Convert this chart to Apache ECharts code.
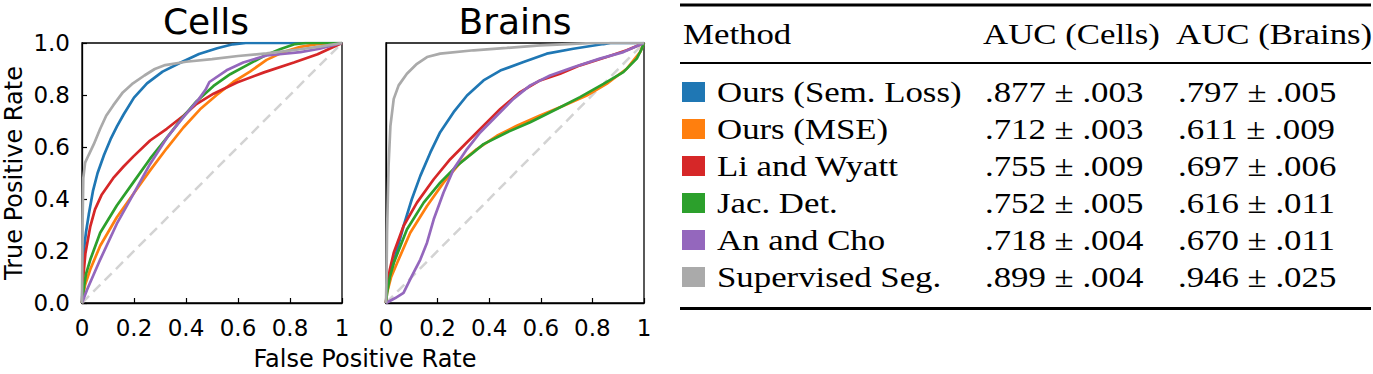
<!DOCTYPE html>
<html>
<head>
<meta charset="utf-8">
<script src="https://cdn.jsdelivr.net/npm/echarts@6/dist/echarts.min.js"></script>
<style>
  html, body { margin: 0; padding: 0; background: #fff; }
  #chart { width: 1373px; height: 374px; }
</style>
</head>
<body>
<div id="chart"></div>
<script>
const methods = ['Ours (Sem. Loss)', 'Ours (MSE)', 'Li and Wyatt', 'Jac. Det.', 'An and Cho', 'Supervised Seg.'];
const colors = ['#1f77b4', '#ff7f0e', '#d62728', '#2ca02c', '#9467bd', '#aaaaaa'];
const aucCells = [0.877, 0.712, 0.755, 0.752, 0.718, 0.899];
const aucCellsStd = [0.003, 0.003, 0.009, 0.005, 0.004, 0.004];
const aucBrains = [0.797, 0.611, 0.697, 0.616, 0.670, 0.946];
const aucBrainsStd = [0.005, 0.009, 0.006, 0.011, 0.011, 0.025];

// chance line
const chance = [[0, 0], [1, 1]];

// ROC curves for Cells, [fpr, tpr]
const cellsSem = [[0,0],[0.003,0.12],[0.007,0.2],[0.015,0.27],[0.026,0.34],[0.042,0.43],[0.06,0.5],[0.085,0.57],[0.11,0.63],[0.135,0.68],[0.16,0.725],[0.2,0.79],[0.25,0.845],[0.31,0.89],[0.38,0.925],[0.45,0.958],[0.52,0.98],[0.58,0.995],[0.63,1],[1,1]];
const cellsMse = [[0,0],[0.005,0.03],[0.012,0.07],[0.032,0.13],[0.07,0.22],[0.134,0.33],[0.198,0.42],[0.262,0.51],[0.326,0.595],[0.39,0.675],[0.454,0.745],[0.518,0.8],[0.582,0.85],[0.646,0.89],[0.71,0.935],[0.774,0.965],[0.84,0.985],[0.9,0.995],[1,1]];
const cellsLi = [[0,0],[0.004,0.09],[0.013,0.19],[0.032,0.295],[0.05,0.36],[0.075,0.415],[0.12,0.48],[0.16,0.525],[0.198,0.564],[0.262,0.625],[0.326,0.67],[0.39,0.72],[0.44,0.765],[0.506,0.805],[0.596,0.848],[0.7,0.887],[0.815,0.925],[0.906,0.957],[1,1]];
const cellsJac = [[0,0],[0.006,0.05],[0.015,0.11],[0.032,0.167],[0.07,0.27],[0.134,0.375],[0.198,0.465],[0.262,0.555],[0.326,0.635],[0.38,0.705],[0.44,0.775],[0.506,0.835],[0.57,0.88],[0.635,0.915],[0.7,0.95],[0.764,0.977],[0.82,0.996],[0.86,1],[1,1]];
const cellsAn = [[0,0],[0.019,0.05],[0.07,0.167],[0.134,0.305],[0.198,0.42],[0.262,0.535],[0.326,0.635],[0.39,0.715],[0.45,0.785],[0.475,0.82],[0.49,0.85],[0.556,0.895],[0.62,0.925],[0.71,0.952],[0.84,0.965],[0.914,0.978],[1,1]];
const cellsSup = [[0,0],[0.002,0.3],[0.005,0.48],[0.012,0.54],[0.026,0.57],[0.045,0.61],[0.07,0.67],[0.093,0.72],[0.12,0.76],[0.157,0.81],[0.196,0.845],[0.24,0.875],[0.28,0.9],[0.32,0.915],[0.4,0.928],[0.5,0.938],[0.6,0.95],[0.71,0.96],[0.84,0.976],[0.92,0.987],[1,1]];

// ROC curves for Brains
const brainsSem = [[0,0],[0.004,0.05],[0.02,0.12],[0.036,0.18],[0.068,0.296],[0.1,0.399],[0.133,0.489],[0.172,0.579],[0.21,0.657],[0.262,0.734],[0.314,0.798],[0.378,0.856],[0.443,0.894],[0.533,0.927],[0.623,0.959],[0.726,0.978],[0.843,0.996],[0.87,1],[1,1]];
const brainsMse = [[0,0],[0.004,0.039],[0.02,0.1],[0.043,0.154],[0.094,0.27],[0.159,0.373],[0.223,0.463],[0.288,0.54],[0.352,0.592],[0.43,0.643],[0.507,0.682],[0.597,0.721],[0.688,0.759],[0.778,0.798],[0.855,0.843],[0.933,0.901],[0.985,0.965],[1,1]];
const brainsLi = [[0,0],[0.004,0.064],[0.015,0.13],[0.03,0.193],[0.068,0.296],[0.12,0.386],[0.185,0.476],[0.249,0.553],[0.314,0.618],[0.378,0.682],[0.443,0.746],[0.52,0.811],[0.597,0.856],[0.675,0.882],[0.752,0.914],[0.855,0.946],[0.933,0.972],[1,1]];
const brainsJac = [[0,0],[0.004,0.039],[0.015,0.1],[0.03,0.154],[0.081,0.283],[0.146,0.386],[0.21,0.463],[0.275,0.528],[0.339,0.579],[0.378,0.611],[0.468,0.656],[0.559,0.695],[0.662,0.746],[0.752,0.792],[0.843,0.843],[0.92,0.888],[0.972,0.94],[0.99,0.975],[1,1]];
const brainsAn = [[0,0],[0.036,0.019],[0.068,0.039],[0.1,0.103],[0.133,0.167],[0.159,0.232],[0.185,0.322],[0.223,0.425],[0.262,0.515],[0.314,0.592],[0.365,0.656],[0.43,0.721],[0.494,0.785],[0.559,0.837],[0.636,0.875],[0.726,0.907],[0.829,0.94],[0.92,0.965],[1,1]];
const brainsSup = [[0,0],[0.002,0.1],[0.004,0.27],[0.01,0.53],[0.017,0.68],[0.03,0.785],[0.049,0.837],[0.081,0.882],[0.12,0.92],[0.159,0.946],[0.21,0.959],[0.34,0.972],[0.468,0.981],[0.597,0.991],[0.726,0.997],[0.8,1],[1,1]];

const cellsCurves = [cellsSem, cellsMse, cellsLi, cellsJac, cellsAn, cellsSup];
const brainsCurves = [brainsSem, brainsMse, brainsLi, brainsJac, brainsAn, brainsSup];

const sans = 'DejaVu Sans';
const serif = 'Liberation Serif';
const fmt = (v) => v.toFixed(3).slice(1);

const chart = echarts.init(document.getElementById('chart'), null, { renderer: 'svg' });

function xAxisFor(gridIndex) {
  return {
    type: 'value', gridIndex, min: 0, max: 1, interval: 0.2,
    axisLine: { show: true, lineStyle: { color: '#000', width: 1.3 } },
    axisTick: { show: true, inside: true, length: 5, lineStyle: { color: '#000', width: 1.2 } },
    splitLine: { show: false },
    axisLabel: {
      color: '#000', fontFamily: sans, fontSize: 23, margin: 13,
      formatter: (v) => (v === 0 ? '0' : v === 1 ? '1' : v.toFixed(1))
    }
  };
}

function curveSeries(curves, idx) {
  const list = [{
    type: 'line', xAxisIndex: idx, yAxisIndex: idx, data: chance,
    symbol: 'none', silent: true,
    lineStyle: { color: '#d3d3d3', width: 2.5, type: [10, 6] }
  }];
  curves.forEach((c, i) => {
    list.push({
      name: methods[i], type: 'line', xAxisIndex: idx, yAxisIndex: idx, data: c,
      symbol: 'none', silent: true,
      lineStyle: { color: colors[i], width: 2.7 }
    });
  });
  return list;
}

// table drawn as graphic elements
const rowY = [92, 129, 166, 203, 240, 277];
const stretch = 1.18;
const cellText = (text, x, y) => ({
  type: 'text', x, y, scaleX: stretch, silent: true,
  style: { text, fill: '#000', fontFamily: serif, fontSize: 29.5, lineHeight: 30, align: 'left', verticalAlign: 'middle' }
});
const table = [
  { type: 'line', silent: true, shape: { x1: 680, y1: 5, x2: 1371, y2: 5 }, style: { stroke: '#000', lineWidth: 3.2 } },
  { type: 'line', silent: true, shape: { x1: 680, y1: 63, x2: 1371, y2: 63 }, style: { stroke: '#000', lineWidth: 2 } },
  { type: 'line', silent: true, shape: { x1: 680, y1: 308.5, x2: 1371, y2: 308.5 }, style: { stroke: '#000', lineWidth: 3.2 } },
  cellText('Method', 683, 34),
  cellText('AUC (Cells)', 983, 34),
  cellText('AUC (Brains)', 1176, 34)
];
methods.forEach((m, i) => {
  table.push({ type: 'rect', silent: true, shape: { x: 682, y: rowY[i] - 10, width: 23, height: 20 }, style: { fill: colors[i] } });
  table.push(cellText(m, 717, rowY[i]));
  table.push(cellText(fmt(aucCells[i]) + ' ± ' + fmt(aucCellsStd[i]), 985, rowY[i]));
  table.push(cellText(fmt(aucBrains[i]) + ' ± ' + fmt(aucBrainsStd[i]), 1178, rowY[i]));
});

const option = {
  animation: false,
  backgroundColor: '#fff',
  grid: [
    { left: 82, top: 43, width: 260, height: 260, show: true, borderColor: '#000', borderWidth: 1.3 },
    { left: 386, top: 43, width: 258, height: 260, show: true, borderColor: '#000', borderWidth: 1.3 }
  ],
  xAxis: [xAxisFor(0), xAxisFor(1)],
  yAxis: [
    {
      type: 'value', gridIndex: 0, min: 0, max: 1, interval: 0.2,
      axisLine: { show: true, lineStyle: { color: '#000', width: 1.3 } },
      axisTick: { show: true, inside: true, length: 5, lineStyle: { color: '#000', width: 1.2 } },
      splitLine: { show: false },
      axisLabel: { color: '#000', fontFamily: sans, fontSize: 23, margin: 12, formatter: (v) => v.toFixed(1) }
    },
    {
      type: 'value', gridIndex: 1, min: 0, max: 1, interval: 0.2,
      axisLine: { show: true, lineStyle: { color: '#000', width: 1.3 } },
      axisTick: { show: false },
      splitLine: { show: false },
      axisLabel: { show: false }
    }
  ],
  series: [...curveSeries(cellsCurves, 0), ...curveSeries(brainsCurves, 1)],
  graphic: [
    { type: 'text', x: 206, y: 21, silent: true, style: { text: 'Cells', fill: '#000', fontFamily: sans, fontSize: 36, lineHeight: 36, align: 'center', verticalAlign: 'middle' } },
    { type: 'text', x: 515, y: 21, silent: true, style: { text: 'Brains', fill: '#000', fontFamily: sans, fontSize: 36, lineHeight: 36, align: 'center', verticalAlign: 'middle' } },
    { type: 'text', x: 365, y: 359, silent: true, style: { text: 'False Positive Rate', fill: '#000', fontFamily: sans, fontSize: 24, lineHeight: 20, align: 'center', verticalAlign: 'middle' } },
    { type: 'text', x: 14, y: 173, rotation: Math.PI / 2, silent: true, style: { text: 'True Positive Rate', fill: '#000', fontFamily: sans, fontSize: 24, lineHeight: 22, align: 'center', verticalAlign: 'middle' } },
    ...table
  ]
};

chart.setOption(option);
window.addEventListener('resize', () => chart.resize());
</script>
</body>
</html>
